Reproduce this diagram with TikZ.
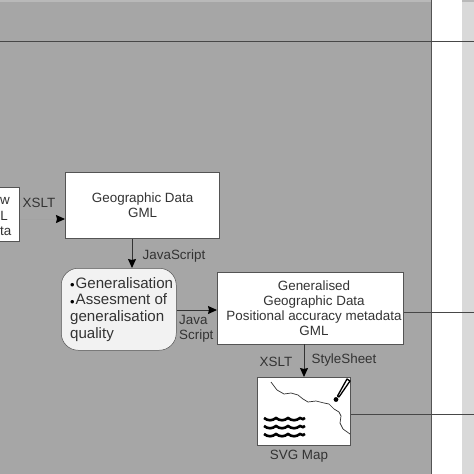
\documentclass[tikz,border=0pt]{standalone}
\usepackage{fontspec}
\setmainfont{Liberation Sans}
\definecolor{panel}{gray}{0.65}
\definecolor{edge}{gray}{0.33}
\definecolor{ink}{gray}{0.2}
\usetikzlibrary{arrows.meta}
\tikzset{
  x=1pt,y=-1pt,
  boxn/.style={draw=edge,line width=1.3pt,fill=white,inner sep=0pt,align=center,text=ink,font=\fontsize{13.4}{15}\selectfont},
  lab/.style={text=ink,inner sep=0pt,align=left,font=\fontsize{13.4}{15}\selectfont},
  conn/.style={draw=ink,line width=1pt,-{Stealth[length=9pt,width=8pt,inset=1pt,black]}},
  plainline/.style={draw=ink!90,line width=0.9pt},
  wave/.style={line width=2.6pt,black}
}
\newcommand{\smallbul}{\makebox[5.5pt][l]{\raisebox{-1.6pt}{\fontsize{13}{9}\selectfont\textcolor{black}{\textbullet}}}}
\begin{document}
\begin{tikzpicture}
\useasboundingbox (0,0) rectangle (474,474);
\fill[panel] (0,0) rectangle (432,474);
\fill[white] (432,0) rectangle (462,474);
\fill[gray!30] (462,0) rectangle (474,474);
\fill[gray!55] (0,0) rectangle (432,2);
\fill[gray!55] (462,0) rectangle (474,2);
\draw[edge,line width=1.2pt] (431.5,0) -- (431.5,474);
\coordinate (ruleL) at (0,41);
\coordinate (ruleR) at (474,41);
\draw[plainline] (ruleL) -- (ruleR);
% partial box
\node[boxn,minimum width=22pt,minimum height=54pt,anchor=north west] (raw) at (-3,187) {};
\node[lab,anchor=base west] (t1) at (0,204) {w};
\node[lab,anchor=base east] (t2) at (8,220) {L};
\node[lab,anchor=base west] (t3) at (0,235) {ta};
\node[boxn,minimum width=154pt,minimum height=66pt,anchor=north west] (geo) at (65,172) {Geographic Data\\GML};
\node[draw=edge,line width=0.5pt,fill=gray!10,rounded corners=17pt,minimum width=115pt,minimum height=82pt,anchor=north west] (proc) at (61,268) {};
\node[lab,anchor=north west,font=\fontsize{15.1}{16.7}\selectfont] (proct) at (70,277) {\smallbul Generalisation\\\smallbul Assesment of\\generalisation\\quality};
\node[boxn,minimum width=186pt,minimum height=72pt,anchor=north west] (gen) at (217,272) {};
\node[lab,align=center,anchor=center] (gent) at (314,308.5) {Generalised\\Geographic Data\\Positional accuracy metadata\\GML};
\node[boxn,minimum width=93pt,minimum height=68pt,anchor=north west] (svg) at (257,377) {};
\node[lab,anchor=center] (svgl) at (299,456) {SVG Map};
\node[lab,anchor=center] (xslt1) at (39,203) {XSLT};
\node[lab,anchor=center] (js) at (174,256) {JavaScript};
\node[lab,anchor=north west] (js2) at (179,315) {Java\\Script};
\node[lab,anchor=center] (xslt2) at (276,362) {XSLT};
\node[lab,anchor=center] (ss) at (344,360) {StyleSheet};
% connectors
\draw[conn,draw=ink!45] (raw.east |- 0,219) -- (geo.west |- 0,219);
\draw[conn] (geo.south -| 132,0) -- (proc.north -| 132,0);
\draw[conn] (proc.east |- 0,310) -- (gen.west |- 0,310);
\draw[conn] (304,344) -- (svg.north -| 304,0);
\coordinate (outa) at (474,312);
\coordinate (outb) at (474,414);
\draw[plainline] (gen.east |- outa) -- (outa);
\draw[plainline] (svg.east |- outb) -- (outb);
% map contents
\draw[ink,line width=0.7pt,line join=round] (271,382) -- (277,390) -- (284,394) -- (291,393) -- (298,395) -- (303,399) -- (308,402) -- (316,401) -- (324,403) -- (329,404) -- (334,409) -- (339,412) -- (341,416) -- (340,423) -- (343,429) -- (350,434);
\fill[black] (336,399.5) circle (2.4);
\draw[black,line width=1.3pt,line join=round] (337.5,396) -- (347,379) -- (350,381) -- (339,397) -- cycle;
\foreach \yy in {418,426,434}{
  \draw[wave] (264,\yy) .. controls (268,\yy+3) and (272,\yy+3) .. (276,\yy)
    .. controls (280,\yy+3) and (284,\yy+3) .. (288,\yy)
    .. controls (292,\yy+3) and (296,\yy+3) .. (300,\yy)
    .. controls (302,\yy+2) and (304,\yy+1) .. (305,\yy);
}
\end{tikzpicture}
\end{document}
